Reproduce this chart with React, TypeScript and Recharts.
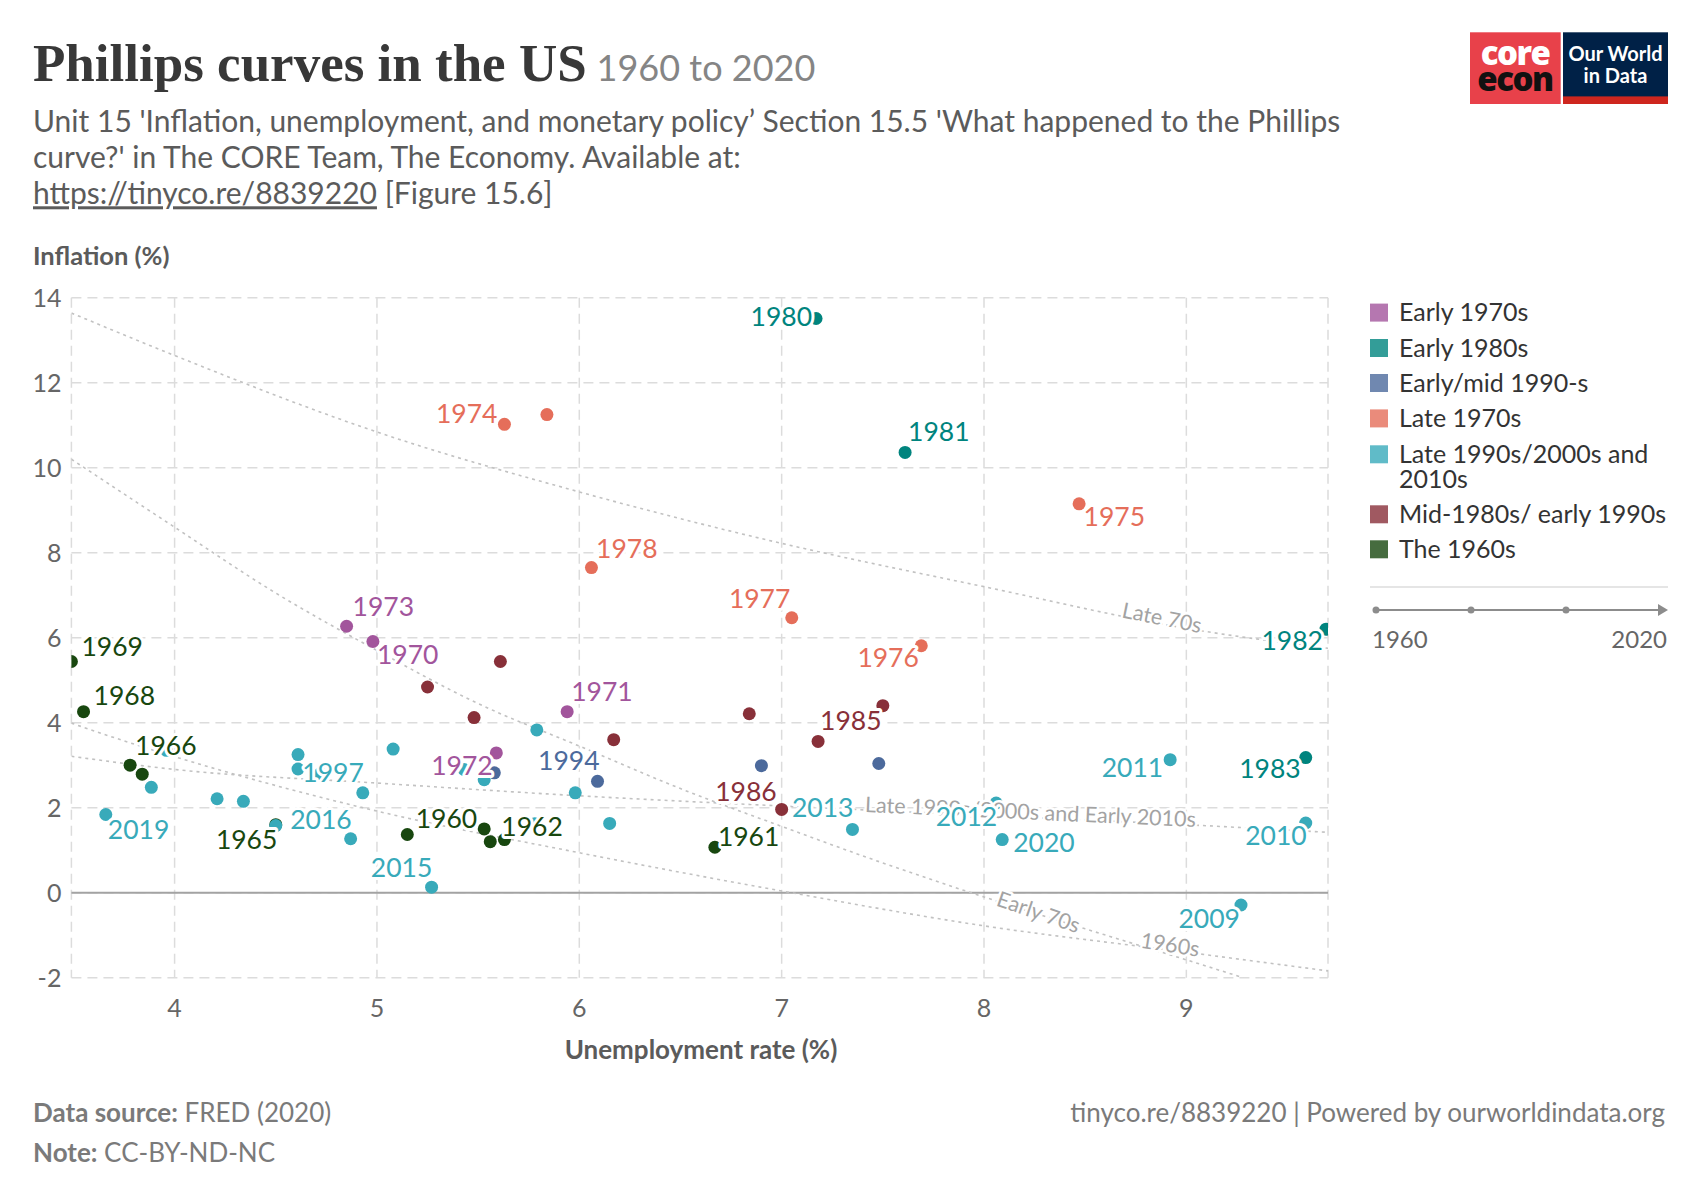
import React from 'react';
import {
  ComposedChart,
  Scatter,
  Line,
  XAxis,
  YAxis,
  CartesianGrid,
  ReferenceLine,
} from 'recharts';

// ---------- DATA ----------
// [year, unemployment rate (%), inflation (%)]
type Obs = [number, number, number];

const sixties: Obs[] = [
  [1960, 5.53, 1.5], [1961, 6.67, 1.07], [1962, 5.56, 1.2], [1963, 5.63, 1.25], [1964, 5.15, 1.37],
  [1965, 4.5, 1.6], [1966, 3.78, 3.0], [1967, 3.84, 2.79], [1968, 3.55, 4.26], [1969, 3.49, 5.44],
];
const early70s: Obs[] = [
  [1970, 4.98, 5.91], [1971, 5.94, 4.26], [1972, 5.59, 3.29], [1973, 4.85, 6.27],
];
const late70s: Obs[] = [
  [1974, 5.63, 11.02], [1975, 8.47, 9.15], [1976, 7.69, 5.81], [1977, 7.05, 6.47], [1978, 6.06, 7.65], [1979, 5.84, 11.25],
];
const early80s: Obs[] = [
  [1980, 7.17, 13.51], [1981, 7.61, 10.36], [1982, 9.69, 6.2], [1983, 9.59, 3.18],
];
const mid80sEarly90s: Obs[] = [
  [1984, 7.5, 4.4], [1985, 7.18, 3.56], [1986, 7.0, 1.96], [1987, 6.17, 3.6],
  [1988, 5.48, 4.12], [1989, 5.25, 4.84], [1990, 5.61, 5.44], [1991, 6.84, 4.21],
];
const earlyMid90s: Obs[] = [
  [1992, 7.48, 3.04], [1993, 6.9, 2.99], [1994, 6.09, 2.62], [1995, 5.58, 2.82],
];
const late90sTo2010s: Obs[] = [
  [1996, 5.43, 2.9], [1997, 4.93, 2.35], [1998, 4.5, 1.58], [1999, 4.21, 2.21], [2000, 3.96, 3.35],
  [2001, 4.72, 2.8], [2002, 5.78, 1.62], [2003, 5.98, 2.35], [2004, 5.53, 2.66], [2005, 5.08, 3.38],
  [2006, 4.61, 3.25], [2007, 4.61, 2.91], [2008, 5.79, 3.83], [2009, 9.27, -0.29], [2010, 9.59, 1.64],
  [2011, 8.92, 3.13], [2012, 8.06, 2.11], [2013, 7.35, 1.49], [2014, 6.15, 1.63], [2015, 5.27, 0.13],
  [2016, 4.87, 1.27], [2017, 4.34, 2.15], [2018, 3.885, 2.48], [2019, 3.66, 1.84], [2020, 8.09, 1.25],
];

const labelledYears = [
  1960, 1961, 1962, 1965, 1966, 1968, 1969, 1970, 1971, 1972, 1973, 1974, 1975, 1976, 1977, 1978,
  1980, 1981, 1982, 1983, 1985, 1986, 1994, 1997, 2009, 2010, 2011, 2012, 2013, 2015, 2016, 2019, 2020,
];

// Comparison curves: [unemployment, inflation]
const late70sCurve: [number, number][] = [
  [3.49, 13.64], [4, 12.64], [5, 10.84], [6, 9.43], [7, 8.22], [8, 7.2], [9, 6.22], [9.7, 5.75],
];
const early70sCurve: [number, number][] = [
  [3.49, 10.2], [4, 8.6], [4.5, 7.05], [5, 5.7], [5.5, 4.45], [6, 3.45], [6.5, 2.45], [7, 1.56],
  [7.5, 0.7], [8, -0.1], [8.5, -0.85], [9, -1.58], [9.28, -2.0],
];
const sixtiesCurve: [number, number][] = [
  [3.49, 3.99], [3.81, 3.48], [4, 3.2], [5, 1.92], [6, 0.94], [7, 0.04], [8, -0.78], [9, -1.4], [9.7, -1.84],
];
const late90sCurve: [number, number][] = [
  [3.49, 3.21], [4, 2.9], [5, 2.58], [6, 2.28], [7, 2.04], [8, 1.82], [9, 1.6], [9.7, 1.42],
];
// curve label anchor [text, unemployment, inflation]
const curveLabelText: [string, number, number][] = [
  ['Late 70s', 8.88, 6.48],
  ['Early 70s', 8.27, -0.45],
  ['1960s', 8.92, -1.21],
  ['Late 1990s/2000s and Early 2010s', 8.23, 1.91],
];

const xTicks = [4, 5, 6, 7, 8, 9];
const yTicks = [-2, 0, 2, 4, 6, 8, 10, 12, 14];
const timelineStart = '1960';
const timelineEnd = '2020';

// ---------- STYLE ----------
const groups = [
  { name: 'The 1960s', color: '#18470f', obs: sixties },
  { name: 'Early 1970s', color: '#a2559c', obs: early70s },
  { name: 'Late 1970s', color: '#e56e5a', obs: late70s },
  { name: 'Early 1980s', color: '#00847e', obs: early80s },
  { name: 'Mid-1980s/ early 1990s', color: '#883039', obs: mid80sEarly90s },
  { name: 'Early/mid 1990-s', color: '#4c6a9c', obs: earlyMid90s },
  { name: 'Late 1990s/2000s and 2010s', color: '#38aaba', obs: late90sTo2010s },
];
const legendOrder = [
  'Early 1970s', 'Early 1980s', 'Early/mid 1990-s', 'Late 1970s',
  'Late 1990s/2000s and 2010s', 'Mid-1980s/ early 1990s', 'The 1960s',
];

// label offsets in px relative to the dot: [dx, dy, anchor]
const placement: Record<number, [number, number, 'start' | 'end']> = {
  1960: [-7, -1, 'end'], 1961: [3, -1, 'start'], 1962: [11, -5.6, 'start'], 1965: [1.6, 24, 'end'],
  1966: [5, -10, 'start'], 1968: [10, -6.7, 'start'], 1969: [10, -5.7, 'start'], 1970: [4, 22, 'start'],
  1971: [4, -10.6, 'start'], 1972: [-3.7, 21.7, 'end'], 1973: [6, -10, 'start'], 1974: [-7, -1, 'end'],
  1975: [4.5, 22, 'start'], 1976: [-2.4, 21, 'end'], 1977: [-1.4, -10, 'end'], 1978: [4.6, -10, 'start'],
  1980: [-4, 7, 'end'], 1981: [3, -11, 'start'], 1982: [-3, 21, 'end'], 1983: [-5, 20.6, 'end'],
  1985: [2, -11, 'start'], 1986: [-5, -8, 'end'], 1994: [2, -11, 'end'], 1997: [1, -10.6, 'end'],
  2009: [-1, 22.6, 'end'], 2010: [1, 22, 'end'], 2011: [-7, 17, 'end'], 2012: [1, 23, 'end'],
  2013: [1, -12, 'end'], 2015: [0.7, -10, 'end'], 2016: [1, -10, 'end'], 2019: [2, 24, 'start'],
  2020: [11, 12, 'start'],
};
const curveLabelAngle: Record<string, number> = {
  'Late 70s': 11.5,
  'Early 70s': 19,
  '1960s': 9,
  'Late 1990s/2000s and Early 2010s': 2.6,
};

const FONT = 'Lato, "Noto Sans", sans-serif';

const toPoints = (obs: Obs[], color: string) =>
  obs.map(([year, u, i]) => ({ year, x: u, y: i, color }));
const toCurve = (c: [number, number][]) => c.map(([u, i]) => ({ x: u, y: i }));

const labelPoints = groups.flatMap((g) =>
  toPoints(g.obs, g.color).filter((p) => labelledYears.includes(p.year))
);
const curveLabelPoints = curveLabelText.map(([text, u, i]) => ({ text, x: u, y: i }));

const Dot = (color: string) => (props: any) => {
  const { cx, cy } = props;
  if (cx == null || cy == null) return <g />;
  return <circle cx={cx} cy={cy} r={6.5} fill={color} />;
};

const YearLabel = (props: any) => {
  const { cx, cy, payload } = props;
  if (cx == null || cy == null) return <g />;
  const [dx, dy, anchor] = placement[payload.year] || [6, -8, 'start'];
  return (
    <text
      x={cx + dx}
      y={cy + dy}
      textAnchor={anchor}
      fontFamily={FONT}
      fontSize={26.5}
      fill={payload.color}
      stroke="#fff"
      strokeWidth={6}
      strokeLinejoin="round"
      paintOrder="stroke"
    >
      {payload.year}
    </text>
  );
};

const CurveLabel = (props: any) => {
  const { cx, cy, payload } = props;
  if (cx == null || cy == null) return <g />;
  const a = curveLabelAngle[payload.text] || 0;
  return (
    <text
      x={cx}
      y={cy}
      textAnchor="middle"
      dominantBaseline="central"
      transform={`rotate(${a} ${cx} ${cy})`}
      fontFamily={FONT}
      fontSize={21.5}
      fill="#a3a3a3"
      stroke="#fff"
      strokeWidth={5}
      strokeLinejoin="round"
      paintOrder="stroke"
    >
      {payload.text}
    </text>
  );
};

const Overlay = () => {
  const legendRows = [312.6, 348, 383, 418.4, 454.3, 514.3, 549.3];
  return (
    <svg width={1700} height={1200} style={{ position: 'absolute', left: 0, top: 0 }}>
      {/* Title */}
      <text x={33} y={81} fontFamily='"Liberation Serif", "DejaVu Serif", serif' fontWeight={700} fontSize={53} fill="#383838">
        Phillips curves in the US
      </text>
      <text x={596.6} y={81} fontFamily={FONT} fontSize={36} fill="#858585">
        1960 to 2020
      </text>
      {/* Description */}
      <g fontFamily={FONT} fontSize={30} fill="#5b5b5b">
        <text x={33} y={131.7}>
          Unit 15 'Inflation, unemployment, and monetary policy’ Section 15.5 'What happened to the Phillips
        </text>
        <text x={33} y={168.3}>curve?' in The CORE Team, The Economy. Available at:</text>
        <text x={33} y={204.3}>
          <tspan textDecoration="underline" style={{ textDecoration: 'underline' }}>https://tinyco.re/8839220</tspan>
          <tspan> [Figure 15.6]</tspan>
        </text>
      </g>
      {/* Axis titles */}
      <text x={33} y={265} fontFamily={FONT} fontWeight={700} fontSize={25.5} fill="#5b5b5b">
        Inflation (%)
      </text>
      <text x={701} y={1059} textAnchor="middle" fontFamily={FONT} fontWeight={700} fontSize={26} fill="#5b5b5b">
        Unemployment rate (%)
      </text>
      {/* Logos */}
      <rect x={1470} y={32.3} width={90.7} height={71.7} fill="#e8414a" />
      <text x={1515} y={65} textAnchor="middle" fontFamily='"Open Sans", sans-serif' fontWeight={800} fontSize={33} fill="#fff" letterSpacing={-1.5}>
        core
      </text>
      <text x={1515} y={91} textAnchor="middle" fontFamily='"Open Sans", sans-serif' fontWeight={800} fontSize={33} fill="#111" letterSpacing={-1.5}>
        econ
      </text>
      <rect x={1563} y={32.3} width={105} height={71.7} fill="#002147" />
      <rect x={1563} y={96.4} width={105} height={7.6} fill="#ce261e" />
      <text x={1615.5} y={61} textAnchor="middle" fontFamily={FONT} fontWeight={700} fontSize={20} fill="#fff">
        Our World
      </text>
      <text x={1615.5} y={83} textAnchor="middle" fontFamily={FONT} fontWeight={700} fontSize={20} fill="#fff">
        in Data
      </text>
      {/* Legend */}
      {legendOrder.map((name, k) => {
        const g = groups.find((gg) => gg.name === name)!;
        const cy = legendRows[k];
        const twoLine = name === 'Late 1990s/2000s and 2010s';
        return (
          <g key={name}>
            <rect x={1370} y={cy - 9} width={18} height={18} fill={g.color} fillOpacity={0.8} />
            {twoLine ? (
              <g>
                <text x={1399} y={cy + 8.5} fontFamily={FONT} fontSize={25} fill="#333">Late 1990s/2000s and</text>
                <text x={1399} y={cy + 33.2} fontFamily={FONT} fontSize={25} fill="#333">2010s</text>
              </g>
            ) : (
              <text x={1399} y={cy + 8.5} fontFamily={FONT} fontSize={25} fill="#333">
                {name}
              </text>
            )}
          </g>
        );
      })}
      <line x1={1370} x2={1668} y1={587} y2={587} stroke="#ddd" strokeWidth={1.5} />
      <line x1={1376} x2={1660} y1={610} y2={610} stroke="#8c8c8c" strokeWidth={2} />
      <path d="M1658 604 L1668 610 L1658 616 Z" fill="#8c8c8c" />
      {[1376, 1471, 1566].map((x) => (
        <circle key={x} cx={x} cy={610} r={3.5} fill="#8c8c8c" />
      ))}
      <text x={1372} y={648} fontFamily={FONT} fontSize={24} fill="#666">{timelineStart}</text>
      <text x={1667} y={648} textAnchor="end" fontFamily={FONT} fontSize={24} fill="#666">{timelineEnd}</text>
      {/* Footer */}
      <text x={33} y={1122} fontFamily={FONT} fontSize={26} fill="#7a7a7a">
        <tspan fontWeight={700}>Data source:</tspan>
        <tspan> FRED (2020)</tspan>
      </text>
      <text x={33} y={1162} fontFamily={FONT} fontSize={26} fill="#7a7a7a">
        <tspan fontWeight={700}>Note:</tspan>
        <tspan> CC-BY-ND-NC</tspan>
      </text>
      <text x={1665} y={1122} textAnchor="end" fontFamily={FONT} fontSize={26} fill="#7a7a7a">
        tinyco.re/8839220 | Powered by ourworldindata.org
      </text>
    </svg>
  );
};

export default function App() {
  const curveStyle = { stroke: '#c2c2c2', strokeWidth: 1.6, strokeDasharray: '3 4' };
  return (
    <div style={{ position: 'absolute', left: 0, top: 0, width: 1700, height: 1200, background: '#fff' }}>
      <Overlay />
      <div style={{ position: 'absolute', left: 0, top: 0 }}>
        <ComposedChart width={1360} height={1100} margin={{ top: 297.7, right: 32, bottom: 0, left: 0 }}>
          <CartesianGrid stroke="#dcdcdc" strokeWidth={1.5} strokeDasharray="10 6" />
          <XAxis
            type="number"
            dataKey="x"
            domain={[3.49, 9.7]}
            ticks={xTicks}
            interval={0}
            allowDataOverflow
            axisLine={false}
            tickLine={false}
            tickSize={0}
            tickMargin={22}
            height={122.3}
            tick={{ fill: '#666', fontSize: 25, fontFamily: FONT }}
          />
          <YAxis
            type="number"
            dataKey="y"
            domain={[-2, 14]}
            ticks={yTicks}
            interval={0}
            allowDataOverflow
            axisLine={false}
            tickLine={false}
            tickSize={0}
            tickMargin={10}
            width={71.4}
            tick={{ fill: '#666', fontSize: 25, fontFamily: FONT }}
          />
          <ReferenceLine y={0} stroke="#a3a3a3" strokeWidth={2} />
          <Line data={toCurve(late70sCurve)} dataKey="y" type="monotone" dot={false} activeDot={false} isAnimationActive={false} {...curveStyle} />
          <Line data={toCurve(early70sCurve)} dataKey="y" type="monotone" dot={false} activeDot={false} isAnimationActive={false} {...curveStyle} />
          <Line data={toCurve(sixtiesCurve)} dataKey="y" type="monotone" dot={false} activeDot={false} isAnimationActive={false} {...curveStyle} />
          <Line data={toCurve(late90sCurve)} dataKey="y" type="monotone" dot={false} activeDot={false} isAnimationActive={false} {...curveStyle} />
          {groups.map((g) => (
            <Scatter
              key={g.name}
              name={g.name}
              data={toPoints(g.obs, g.color)}
              fill={g.color}
              shape={Dot(g.color)}
              isAnimationActive={false}
            />
          ))}
          <Scatter data={curveLabelPoints} shape={CurveLabel} isAnimationActive={false} />
          <Scatter data={labelPoints} shape={YearLabel} isAnimationActive={false} />
        </ComposedChart>
      </div>
    </div>
  );
}
